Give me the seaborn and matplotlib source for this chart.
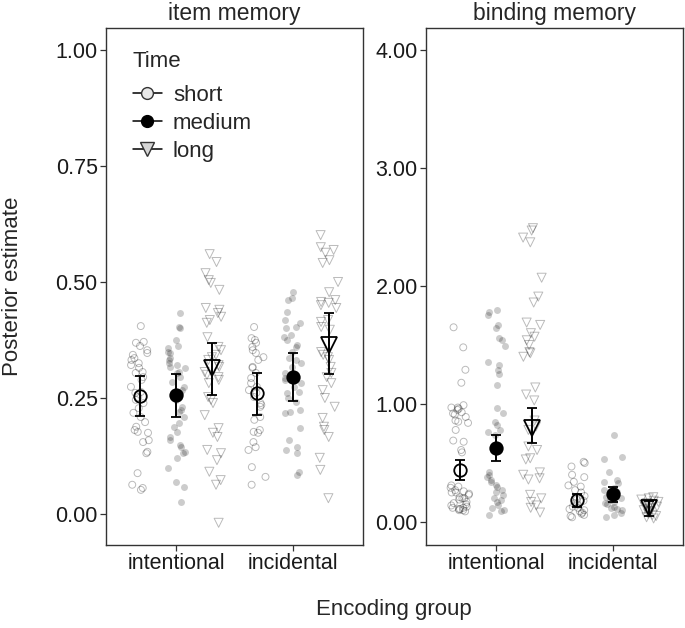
import numpy as np
import pandas as pd
import seaborn as sns
import matplotlib.pyplot as plt
from matplotlib.lines import Line2D

sns.set_style("white")
plt.rcParams['font.family'] = ['Liberation Sans', 'DejaVu Sans']

panels = ["item memory", "binding memory"]
groups = ["intentional", "incidental"]
times = ["short", "medium", "long"]

# individual posterior estimates
item_int_short = [0.405, 0.371, 0.369, 0.362, 0.353, 0.347, 0.343, 0.336, 0.332, 0.325, 0.321, 0.315, 0.306,
                  0.304, 0.295, 0.289, 0.274, 0.263, 0.261, 0.252, 0.246, 0.239, 0.228, 0.218, 0.209, 0.198,
                  0.188, 0.181, 0.177, 0.175, 0.159, 0.155, 0.134, 0.131, 0.088, 0.063, 0.056, 0.052]
item_int_medium = [0.433, 0.403, 0.401, 0.375, 0.362, 0.358, 0.349, 0.347, 0.336, 0.332, 0.325, 0.321, 0.317,
                   0.315, 0.306, 0.304, 0.295, 0.284, 0.274, 0.267, 0.261, 0.246, 0.231, 0.224, 0.220, 0.209,
                   0.196, 0.188, 0.177, 0.166, 0.159, 0.149, 0.144, 0.134, 0.131, 0.121, 0.099, 0.069, 0.058, 0.026]
item_int_long = [0.560, 0.543, 0.519, 0.504, 0.498, 0.483, 0.444, 0.440, 0.433, 0.425, 0.418, 0.412, 0.381,
                 0.360, 0.353, 0.343, 0.338, 0.332, 0.321, 0.317, 0.306, 0.300, 0.295, 0.289, 0.282, 0.252,
                 0.246, 0.239, 0.213, 0.185, 0.175, 0.166, 0.138, 0.131, 0.116, 0.091, 0.073, 0.063, -0.019]
item_inc_short = [0.403, 0.379, 0.375, 0.369, 0.360, 0.353, 0.347, 0.338, 0.332, 0.317, 0.315, 0.304, 0.293,
                  0.282, 0.274, 0.267, 0.261, 0.252, 0.239, 0.235, 0.231, 0.209, 0.203, 0.181, 0.177, 0.175,
                  0.155, 0.144, 0.138, 0.101, 0.080, 0.063]
item_inc_medium = [0.478, 0.466, 0.461, 0.435, 0.418, 0.412, 0.403, 0.401, 0.386, 0.381, 0.375, 0.364, 0.360,
                   0.349, 0.336, 0.332, 0.325, 0.317, 0.304, 0.293, 0.289, 0.282, 0.274, 0.263, 0.261, 0.250,
                   0.241, 0.224, 0.220, 0.218, 0.185, 0.159, 0.144, 0.138, 0.131, 0.091, 0.084]
item_inc_long = [0.601, 0.575, 0.569, 0.563, 0.547, 0.541, 0.500, 0.478, 0.461, 0.457, 0.455, 0.450, 0.444,
                 0.418, 0.414, 0.403, 0.397, 0.349, 0.343, 0.338, 0.332, 0.317, 0.304, 0.295, 0.282, 0.267,
                 0.250, 0.231, 0.207, 0.188, 0.181, 0.166, 0.121, 0.095, 0.034]

bind_int_short = [1.65, 1.48, 1.29, 1.18, 0.99, 0.97, 0.97, 0.96, 0.95, 0.93, 0.92, 0.91, 0.89, 0.86, 0.85,
                  0.84, 0.78, 0.69, 0.68, 0.61, 0.59, 0.31, 0.30, 0.29, 0.27, 0.26, 0.25, 0.25, 0.24, 0.23,
                  0.21, 0.20, 0.20, 0.19, 0.17, 0.16, 0.15, 0.14, 0.13, 0.12, 0.11, 0.10, 0.10, 0.09, 0.12, 0.11]
bind_int_medium = [1.80, 1.78, 1.75, 1.67, 1.64, 1.56, 1.54, 1.49, 1.36, 1.33, 1.29, 1.25, 1.16, 0.97, 0.92,
                   0.85, 0.82, 0.78, 0.76, 0.74, 0.42, 0.40, 0.38, 0.36, 0.34, 0.31, 0.30, 0.27, 0.25, 0.23,
                   0.20, 0.19, 0.17, 0.14, 0.12, 0.10, 0.09, 0.06]
bind_int_long = [2.49, 2.47, 2.41, 2.37, 2.07, 1.91, 1.86, 1.69, 1.67, 1.60, 1.57, 1.54, 1.50, 1.44, 1.43,
                 1.40, 1.14, 1.08, 1.03, 0.86, 0.81, 0.78, 0.64, 0.61, 0.54, 0.53, 0.42, 0.40, 0.37, 0.36,
                 0.23, 0.20, 0.17, 0.14, 0.12, 0.08]
bind_inc_short = [0.51, 0.50, 0.47, 0.40, 0.38, 0.34, 0.31, 0.30, 0.27, 0.25, 0.21, 0.19, 0.16, 0.13, 0.10,
                  0.09, 0.08, 0.06, 0.04, 0.22, 0.18, 0.15, 0.12, 0.11, 0.07, 0.05]
bind_inc_medium = [0.74, 0.55, 0.53, 0.42, 0.36, 0.34, 0.33, 0.29, 0.25, 0.23, 0.20, 0.19, 0.17, 0.16, 0.13,
                   0.12, 0.10, 0.08, 0.04, 0.27, 0.21, 0.15, 0.11, 0.06]
bind_inc_long = [0.21, 0.20, 0.19, 0.16, 0.14, 0.13, 0.12, 0.10, 0.09, 0.08, 0.06, 0.18, 0.15, 0.11, 0.07,
                 0.05, 0.04, 0.03, 0.17, 0.13, 0.09]

# group-level posterior means with interval limits (order: int short/medium/long, inc short/medium/long)
item_mean = [0.254, 0.256, 0.315, 0.261, 0.295, 0.364]
item_lo = [0.211, 0.209, 0.256, 0.213, 0.244, 0.302]
item_hi = [0.297, 0.302, 0.369, 0.304, 0.347, 0.433]
bind_mean = [0.44, 0.627, 0.80, 0.19, 0.24, 0.12]
bind_lo = [0.36, 0.517, 0.67, 0.13, 0.17, 0.05]
bind_hi = [0.525, 0.737, 0.97, 0.24, 0.30, 0.18]

raw = {
    ("item memory", "intentional"): [item_int_short, item_int_medium, item_int_long],
    ("item memory", "incidental"): [item_inc_short, item_inc_medium, item_inc_long],
    ("binding memory", "intentional"): [bind_int_short, bind_int_medium, bind_int_long],
    ("binding memory", "incidental"): [bind_inc_short, bind_inc_medium, bind_inc_long],
}
summary = {"item memory": (item_mean, item_lo, item_hi),
           "binding memory": (bind_mean, bind_lo, bind_hi)}

offset = {"short": -0.31, "medium": 0.0, "long": 0.31}

rows = []
for (panel, group), series in raw.items():
    for time, vals in zip(times, series):
        for v in vals:
            rows.append({"panel": panel, "group": group, "time": time, "value": v,
                         "pos": groups.index(group) + 1 + offset[time]})
df = pd.DataFrame(rows)

point_style = {
    "short": dict(marker="o", size=5, color="black", facecolor="none", edgecolor="black", linewidth=0.7, alpha=0.27),
    "medium": dict(marker="o", size=5, color="black", linewidth=0, alpha=0.2),
    "long": dict(marker="v", size=6.5, color="black", facecolor="none", edgecolor="black", linewidth=0.7, alpha=0.27),
}
mean_style = {
    "short": dict(fmt="o", ms=9, mfc="none", mec="black", mew=1.3),
    "medium": dict(fmt="o", ms=9, mfc="black", mec="black", mew=1.3),
    "long": dict(fmt="v", ms=12, mfc="none", mec="black", mew=1.3),
}

np.random.seed(3)
fig = plt.figure(figsize=(6.85, 6.28), dpi=100)
ax_item = fig.add_axes([0.1547, 0.1322, 0.3752, 0.8232])
ax_bind = fig.add_axes([0.6219, 0.1322, 0.3752, 0.8232])
ylims = {"item memory": (-0.0668, 1.0474), "binding memory": (-0.1949, 4.1864)}
yticks = {"item memory": [0, 0.25, 0.5, 0.75, 1.0], "binding memory": [0, 1, 2, 3, 4]}

for ax, panel in zip([ax_item, ax_bind], panels):
    sub = df[df["panel"] == panel]
    for time in times:
        sns.stripplot(data=sub[sub["time"] == time], x="pos", y="value", native_scale=True,
                      orient="x", jitter=0.08, ax=ax, zorder=2, **point_style[time])
    means, lo, hi = summary[panel]
    for i, time in enumerate(times):
        for j, group in enumerate(groups):
            k = j * 3 + i
            ax.errorbar(j + 1 + offset[time], means[k],
                        yerr=[[means[k] - lo[k]], [hi[k] - means[k]]],
                        ecolor="black", elinewidth=1.4, capsize=3.6, capthick=1.4,
                        zorder=5, **mean_style[time])
    ax.set_xlim(0.4, 2.6)
    ax.set_ylim(*ylims[panel])
    ax.set_xticks([1, 2])
    ax.set_xticklabels(groups)
    ax.set_yticks(yticks[panel])
    ax.set_yticklabels([f"{t:.2f}" for t in yticks[panel]])
    ax.set_xlabel("")
    ax.set_ylabel("")
    ax.set_title(panel, fontsize=16.5, pad=6)
    ax.tick_params(axis="both", labelsize=15.5, length=4, width=0.9, color="#333333",
                   labelcolor="#1a1a1a", pad=2, direction="out", bottom=True, left=True)
    for sp in ax.spines.values():
        sp.set_color("#333333")
        sp.set_linewidth(1.0)

handles = [
    Line2D([0], [0], color="black", lw=1.1, marker="o", ms=8.5, mfc="#e8e8e8", mec="#333333"),
    Line2D([0], [0], color="black", lw=1.1, marker="o", ms=8.5, mfc="black", mec="black"),
    Line2D([0], [0], color="black", lw=1.1, marker="v", ms=10, mfc="#d6d6d6", mec="#333333"),
]
leg = ax_item.legend(handles, times, title="Time", loc="upper left", bbox_to_anchor=(0.07, 0.972),
                     frameon=False, fontsize=16, title_fontsize=16, handlelength=1.3,
                     handletextpad=0.5, labelspacing=0.32, borderaxespad=0)
leg._legend_box.align = "left"
leg._legend_box.sep = 9

fig.text(0.575, 1 - 610 / 628, "Encoding group", ha="center", va="center", fontsize=16)
fig.text(0.018, 1 - 286 / 628, "Posterior estimate", ha="center", va="center", rotation=90, fontsize=16)

fig.savefig("out.png", dpi=100)
